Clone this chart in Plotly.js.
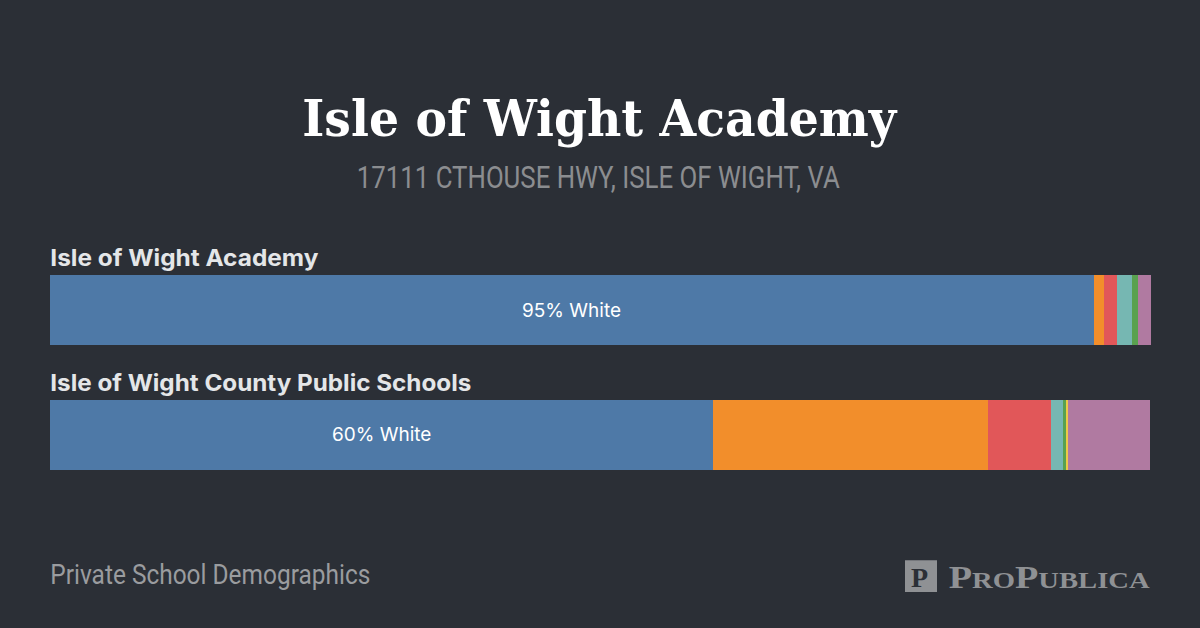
<!DOCTYPE html>
<html>
<head>
<meta charset="utf-8">
<script src="https://cdn.plot.ly/plotly-3.0.1.min.js"></script>
<style>html,body{margin:0;padding:0;background:#2b2f36;}#chart{width:1200px;height:628px;}</style>
</head>
<body>
<div id="chart"></div>
<script>
// Data
const schools = ["Isle of Wight Academy", "Isle of Wight County Public Schools"];
const groups = ["White", "Black", "Hispanic", "Asian", "American Indian", "Pacific Islander", "Two or more races"];
const colors = ["#4e79a7", "#f28e2b", "#e15759", "#76b7b2", "#59a14f", "#edc948", "#b07aa1"];
const academyShares = [94.8, 0.9, 1.2, 1.4, 0.55, 0, 1.2];
const publicShares = [60.2, 25.0, 5.7, 1.1, 0.27, 0.18, 7.5];
const title = "Isle of Wight Academy";
const subtitle = "17111 CTHOUSE HWY, ISLE OF WIGHT, VA";
const footer = "Private School Demographics";

const W = 1200, H = 628;
const L = 50, R = 49, T = 247.5, B = 130.5;
const pw = W - L - R, ph = H - T - B;
const px = x => (x - L) / pw;
const py = y => (H - B - y) / ph;

const shares = [academyShares, publicShares];
const traces = groups.map((g, gi) => ({
  type: "bar",
  orientation: "h",
  name: g,
  y: [0, 1],
  x: shares.map(s => s[gi]),
  width: 0.56,
  marker: {color: colors[gi], line: {width: 0}},
  hoverinfo: "name+x"
}));

// label boxes: [left px, right px] of each text in the original, used for centring + width fitting
const labelSpan = [[50, 318], [50, 471]];

const annotations = [];
const fit = []; // target width per annotation (null = natural)
function addAnn(a, w) { annotations.push(a); fit.push(w || null); }

addAnn({text: title, xref: "paper", yref: "paper", x: px(600), y: py(117), xanchor: "center", yanchor: "middle", showarrow: false,
   font: {family: "DejaVu Serif, serif", size: 50, weight: 700, color: "#ffffff"}}, 594);
addAnn({text: subtitle, xref: "paper", yref: "paper", x: px(598.5), y: py(177), xanchor: "center", yanchor: "middle", showarrow: false,
   font: {family: "Roboto, sans-serif", size: 31, color: "#8b8d90"}}, 483);
addAnn({text: footer, xref: "paper", yref: "paper", x: px(210), y: py(575), xanchor: "center", yanchor: "middle", showarrow: false,
   font: {family: "Roboto, sans-serif", size: 28, color: "#9a9c9f"}}, 320);
addAnn({text: "P<span style='font-size:24px'>RO</span>P<span style='font-size:24px'>UBLICA</span>", xref: "paper", yref: "paper", x: px(1049.5), y: py(578), xanchor: "center", yanchor: "middle", showarrow: false,
   font: {family: "Liberation Serif, serif", size: 32, weight: 700, color: "#8f9194"}}, 201);
addAnn({text: "P", xref: "paper", yref: "paper", x: px(919), y: py(578), xanchor: "center", yanchor: "middle", showarrow: false,
   font: {family: "Liberation Serif, serif", size: 28, weight: 700, color: "#2b2f36"}});
schools.forEach((s, i) => {
  const c = (labelSpan[i][0] + labelSpan[i][1]) / 2;
  addAnn({text: s, xref: "paper", yref: "y", x: px(c), y: i - 0.28, xanchor: "center", yanchor: "bottom", yshift: 1, showarrow: false,
    font: {family: "Inter, Roboto, sans-serif", size: 23, weight: 700, color: "#e4e6e8"}}, labelSpan[i][1] - labelSpan[i][0]);
  addAnn({text: shares[i][0].toFixed(0) + "% " + groups[0], xref: "x", yref: "y", x: shares[i][0] / 2, y: i, xanchor: "center", yanchor: "middle", showarrow: false,
    font: {family: "Inter, Roboto, sans-serif", size: 19, color: "#ffffff"}});
});

const layout = {
  width: W, height: H,
  margin: {l: L, r: R, t: T, b: B, pad: 0},
  paper_bgcolor: "#2b2f36",
  plot_bgcolor: "#2b2f36",
  barmode: "stack",
  showlegend: false,
  xaxis: {range: [0, 100], visible: false, fixedrange: true},
  yaxis: {range: [1.5, -0.5], visible: false, fixedrange: true},
  annotations: annotations,
  shapes: [
    {type: "rect", xref: "paper", yref: "paper", x0: px(905), x1: px(937), y0: py(593), y1: py(561), fillcolor: "#8f9194", line: {width: 0}, layer: "above"}
  ]
};

Plotly.newPlot("chart", traces, layout, {displayModeBar: false, staticPlot: true}).then(() => {
  fit.forEach((w, i) => {
    if (!w) return;
    const t = document.querySelector('#chart .annotation[data-index="' + i + '"] .annotation-text');
    if (t) {
      t.setAttribute("textLength", w);
      t.setAttribute("lengthAdjust", "spacingAndGlyphs");
    }
  });
});
</script>
</body>
</html>
